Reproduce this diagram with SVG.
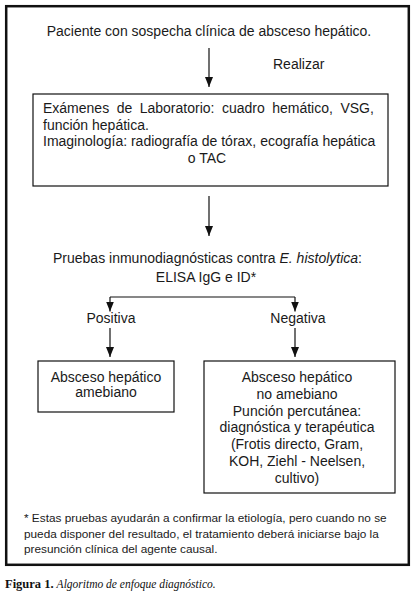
<svg xmlns="http://www.w3.org/2000/svg" width="415" height="599" viewBox="0 0 415 599">
<defs>
<marker id="ah" markerUnits="userSpaceOnUse" markerWidth="10" markerHeight="10" refX="10" refY="4" orient="auto">
<path d="M0,0 L10,4 L0,8 z" fill="#111"/>
</marker>
<style>
.t{font-family:"Liberation Sans",Arial,sans-serif;font-size:14px;fill:#1a1a1a}
.fn{font-size:11.8px}
.m{text-anchor:middle}
.box{fill:#fff;stroke:#111;stroke-width:1.2}
.c{fill:none;stroke:#111;stroke-width:1.2}
.a{marker-end:url(#ah)}
.cap{font-family:"Liberation Serif","Times New Roman",serif;font-size:12px;fill:#111}
</style>
</defs>
<rect x="0" y="0" width="415" height="599" fill="#fff"/>
<rect id="frame" x="6.2" y="6.2" width="402.6" height="558.6" fill="none" stroke="#111" stroke-width="2.5"/>

<g id="connectors">
<path class="c a" d="M209,48 V87"/>
<path class="c a" d="M209,196 V236"/>
<path class="c" d="M110,297 H295"/>
<path class="c a" d="M110,297 V311.5"/>
<path class="c a" d="M295,297 V311.5"/>
<path class="c a" d="M110,328 V357"/>
<path class="c a" d="M295,328 V357"/>
</g>

<g id="start">
<text class="t m" x="209" y="36">Paciente con sospecha clínica de absceso hepático.</text>
</g>
<g id="label-realizar">
<text class="t" x="273" y="69">Realizar</text>
</g>
<g id="examenes">
<rect class="box" x="33" y="94" width="355" height="92"/>
<text class="t" x="43" y="113" word-spacing="3.6">Exámenes de Laboratorio: cuadro hemático, VSG,</text>
<text class="t" x="43" y="130">función hepática.</text>
<text class="t" x="43" y="146">Imaginología: radiografía de tórax, ecografía hepática</text>
<text class="t m" x="207" y="163">o TAC</text>
</g>
<g id="pruebas">
<text class="t m" x="207.5" y="263">Pruebas inmunodiagnósticas contra <tspan font-style="italic">E. histolytica</tspan>:</text>
<text class="t m" x="206" y="282">ELISA IgG e ID*</text>
</g>
<g id="label-positiva">
<text class="t m" x="111" y="323">Positiva</text>
</g>
<g id="label-negativa">
<text class="t m" x="298" y="323">Negativa</text>
</g>
<g id="amebiano">
<rect class="box" x="38" y="361" width="136" height="51"/>
<text class="t m" x="106" y="382">Absceso hepático</text>
<text class="t m" x="106" y="397">amebiano</text>
</g>
<g id="no-amebiano">
<rect class="box" x="204" y="361" width="191" height="132"/>
<text class="t m" x="297" y="382">Absceso hepático</text>
<text class="t m" x="297" y="398.8">no amebiano</text>
<text class="t m" x="297" y="415.6">Punción percutánea:</text>
<text class="t m" x="297" y="432.4">diagnóstica y terapéutica</text>
<text class="t m" x="297" y="449.2">(Frotis directo, Gram,</text>
<text class="t m" x="297" y="466">KOH, Ziehl - Neelsen,</text>
<text class="t m" x="297" y="482.8">cultivo)</text>
</g>
<g id="footnote">
<text class="t fn" x="24" y="522">* Estas pruebas ayudarán a confirmar la etiología, pero cuando no se</text>
<text class="t fn" x="24" y="537.5">pueda disponer del resultado, el tratamiento deberá iniciarse bajo la</text>
<text class="t fn" x="24" y="552.5">presunción clínica del agente causal.</text>
</g>
<g id="caption">
<text class="cap" x="5" y="588"><tspan font-weight="bold" font-size="12.5px">Figura 1.</tspan> <tspan font-style="italic" font-size="11.5px">Algoritmo de enfoque diagnóstico.</tspan></text>
</g>
</svg>
